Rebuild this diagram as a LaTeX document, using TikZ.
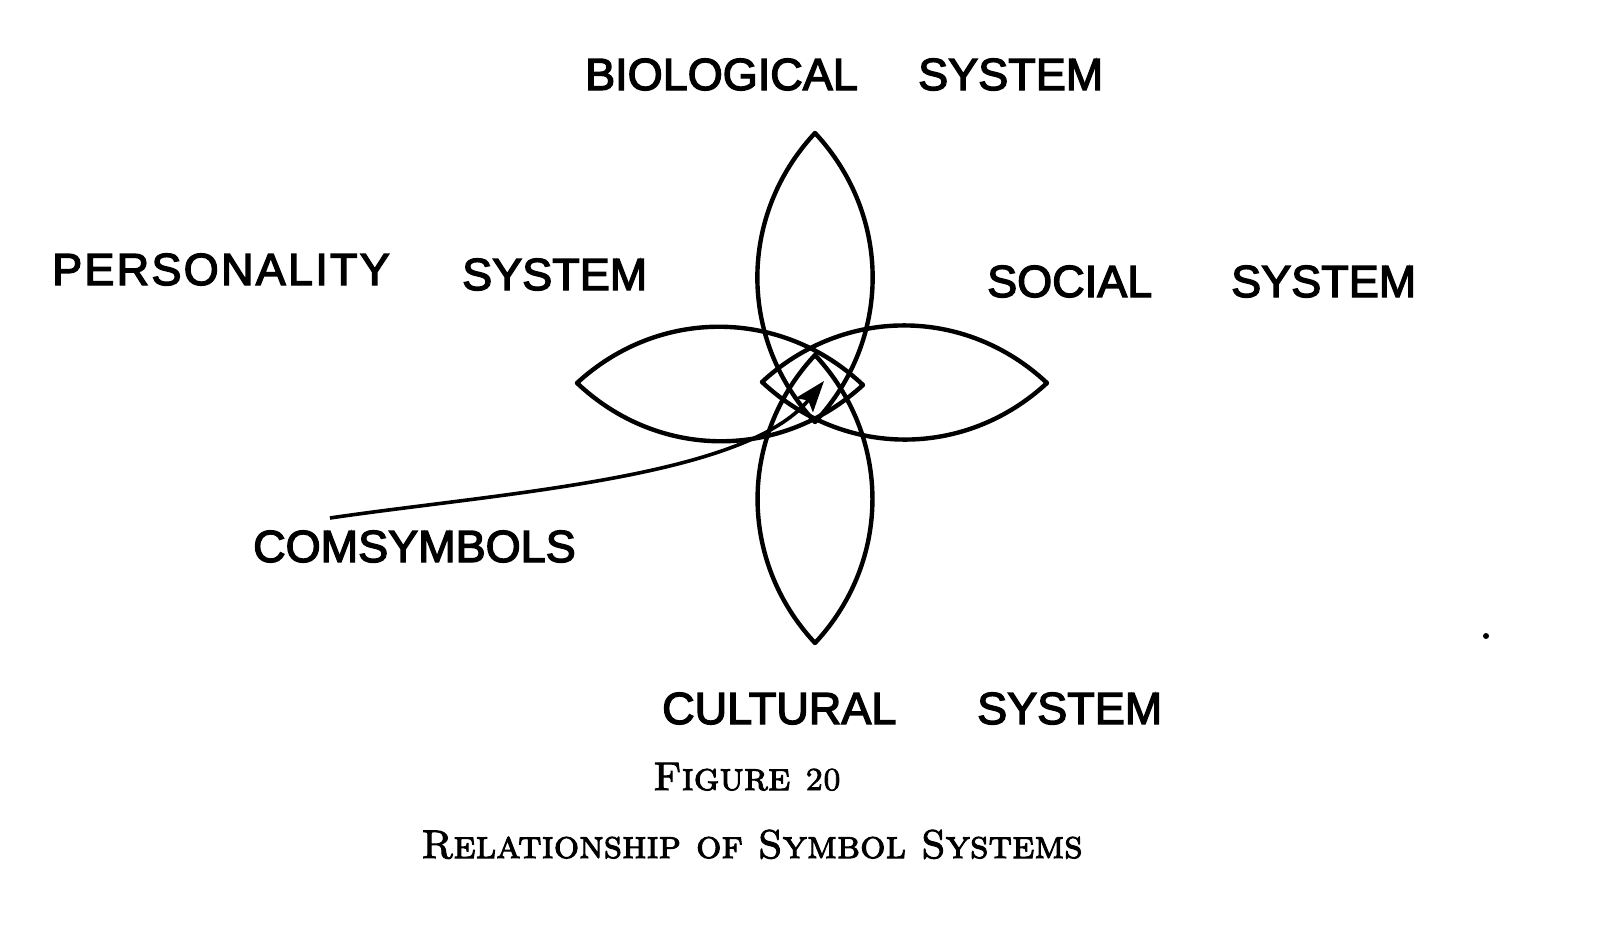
\documentclass[tikz,border=0pt]{standalone}
\usepackage{fontspec}
\newfontfamily\lettering{Liberation Sans}[FakeBold=3]
\newfontfamily\captfont{lmromancaps10-regular}[Extension=.otf, FakeBold=2.5]
\usetikzlibrary{arrows.meta}
\begin{document}
\begin{tikzpicture}[x=1pt,y=-1pt,
  lensline/.style={line width=4.4pt, line cap=round, line join=round},
  lbl/.style={font=\lettering\fontsize{45}{50}\selectfont, inner sep=0pt, anchor=base west},
  capt/.style={font=\captfont\fontsize{40}{44}\selectfont, inner sep=0pt, anchor=base},
  pointer/.style={line width=3.6pt, -{Stealth[length=31pt,width=22pt,inset=6pt]}}]
\useasboundingbox (0,0) rectangle (1600,934);
\fill[white] (0,0) rectangle (1600,934);

% lens tips
\coordinate (tA) at (815,133); \coordinate (tB) at (815,422);
\coordinate (bA) at (815,355); \coordinate (bB) at (815,643);
\coordinate (lA) at (577,383); \coordinate (lB) at (863,385);
\coordinate (rA) at (762,382); \coordinate (rB) at (1047,383);

\draw[lensline] (tA) to[bend left=43] (tB) to[bend left=43] (tA);
\draw[lensline] (bA) to[bend left=43] (bB) to[bend left=43] (bA);
\draw[lensline] (lA) to[bend left=43] (lB) to[bend left=43] (lA);
\draw[lensline] (rA) to[bend left=43] (rB) to[bend left=43] (rA);

% labels
\node[lbl] (bio1) at (585,90) {BIOLOGICAL};
\node[lbl] (bio2) at (918,90) {SYSTEM};
\node[lbl] (per1) at (52,285) {\addfontfeature{LetterSpace=5}PERSONALITY};
\node[lbl] (per2) at (462,290) {SYSTEM};
\node[lbl] (soc1) at (987,297) {SOCIAL};
\node[lbl] (soc2) at (1231,297) {SYSTEM};
\node[lbl] (com) at (253,562) {COMSYMBOLS};
\node[lbl] (cul1) at (662,724) {CULTURAL};
\node[lbl] (cul2) at (977,724) {SYSTEM};

% pointer
\coordinate (cs) at (330,518);
\coordinate (ctr) at (824,381);
\draw[pointer] (cs) .. controls (500,493) and (745,478) .. (ctr);

% caption
\node[capt] (fig) at (747,790) {Figure {\fontsize{32}{32}\selectfont 20}};
\node[capt] (rel) at (752,858) {Relationship of Symbol Systems};

% speck
\fill (1486,636) circle (3);
\end{tikzpicture}
\end{document}
